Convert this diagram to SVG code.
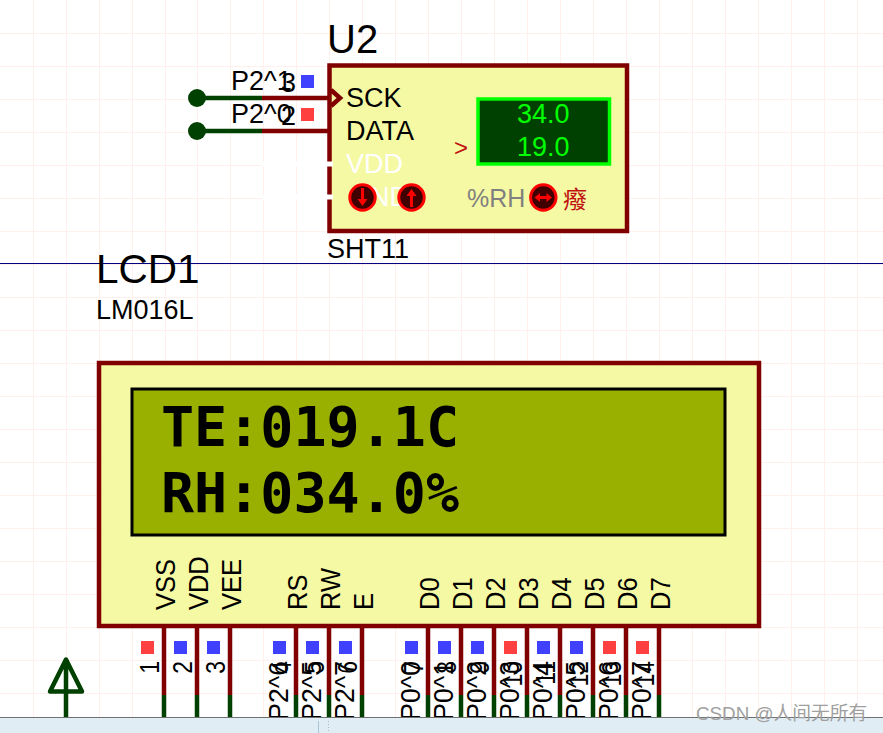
<svg xmlns="http://www.w3.org/2000/svg" width="883" height="733" viewBox="0 0 883 733">
<style>
text{font-family:"Liberation Sans",Arial,"Noto Sans CJK SC",sans-serif;fill:#000}
.grid{stroke:#fff0ee;stroke-width:1;fill:none;shape-rendering:crispEdges}
.body{fill:#f5f9a3;stroke:#800000;stroke-width:4.5}
.f27{font-size:27px}.f40{font-size:40px}.f28{font-size:28px}
.red{stroke:#800000;stroke-width:4.5;fill:none}
.green{stroke:#004000;stroke-width:4.5;fill:none}
.sr{fill:#ff4040}.sb{fill:#4040ff}
.lcd{font-family:"DejaVu Sans Mono","Liberation Mono",monospace;font-weight:700;font-size:55px}
.btn{fill:#400000;stroke:#f00;stroke-width:3}
.stem{stroke:#f00;stroke-width:3;fill:none}
.head{fill:#f00}
</style>
<rect width="883" height="733" fill="#fff"/>
<path class="grid" d="M33 0V717M66 0V717M99 0V717M132 0V717M165 0V717M197 0V717M230 0V717M263 0V717M296 0V717M329 0V717M362 0V717M395 0V717M428 0V717M461 0V717M494 0V717M527 0V717M560 0V717M593 0V717M626 0V717M659 0V717M692 0V717M725 0V717M758 0V717M791 0V717M824 0V717M857 0V717M0 33H883M0 66H883M0 99H883M0 132H883M0 165H883M0 198H883M0 231H883M0 264H883M0 297H883M0 330H883M0 363H883M0 396H883M0 429H883M0 462H883M0 495H883M0 528H883M0 561H883M0 594H883M0 627H883M0 660H883M0 693H883"/>
<path d="M0 263.500H883" stroke="#000080" stroke-width="1"/>
<g id="connectors">
<path class="green" d="M197 98H262M197 131H262"/>
<circle cx="197" cy="98" r="9" fill="#004000"/><circle cx="197" cy="131" r="9" fill="#004000"/>
<path class="red" d="M262 98H330M262 131H330"/>
<path class="red" d="M164 628V695M197 628V695M230 628V695M296 628V695M329 628V695M362 628V695M428 628V695M461 628V695M494 628V695M527 628V695M560 628V695M593 628V695M626 628V695M659 628V695"/>
<path class="green" d="M164 695V717M197 695V717M230 695V717M296 695V717M329 695V717M362 695V717M428 695V717M461 695V717M494 695V717M527 695V717M560 695V717M593 695V717M626 695V717M659 695V717"/>
</g>
<g id="U2">
<rect class="body" x="329.500" y="65.500" width="297.500" height="165.500"/>
<path d="M262 164H333M262 197H333" stroke="#fff" stroke-width="5" fill="none"/>
<path d="M331 90L340 98L331 106" stroke="#800000" stroke-width="4.500" fill="none"/>
<text class="f40" x="327" y="53">U2</text>
<text class="f27" x="327" y="258">SHT11</text>
<text class="f27" x="231" y="90">P2^1</text>
<text class="f27" x="231" y="123">P2^0</text>
<text class="f27" x="296" y="92" text-anchor="end">3</text>
<text class="f27" x="296" y="125" text-anchor="end">2</text>
<rect class="sb" x="301" y="75" width="13" height="13"/>
<rect class="sr" x="301" y="108" width="13" height="13"/>
<text class="f27" x="346" y="107">SCK</text>
<text class="f27" x="346" y="140">DATA</text>
<text class="f27" x="346" y="173" style="fill:#fff">VDD</text>
<text class="f27" x="349" y="206" style="fill:#fff">GND</text>
<text x="454" y="156" font-size="24" style="fill:#c01010">&gt;</text>
<rect x="478" y="99" width="131.500" height="65" fill="#004000" stroke="#0f0" stroke-width="3.500"/>
<text class="f27" x="569.500" y="123" text-anchor="end" style="fill:#0f0">34.0</text>
<text class="f27" x="569.500" y="156" text-anchor="end" style="fill:#0f0">19.0</text>
<circle class="btn" cx="362.500" cy="197.500" r="12.700"/>
<path class="stem" d="M362.500 188V200"/><path class="head" d="M357.500 199H367.500L362.500 206Z"/>
<circle class="btn" cx="411.500" cy="197.500" r="12.700"/>
<path class="stem" d="M411.500 207V195"/><path class="head" d="M406.500 196H416.500L411.500 189Z"/>
<text x="467" y="207" font-size="25" style="fill:#808080">%RH</text>
<circle class="btn" cx="543.300" cy="197.500" r="12.700"/>
<path class="stem" d="M538 197.500H549"/><path class="head" d="M540 193V202L534.500 197.500ZM546.500 193V202L552 197.500Z"/>
<text x="563" y="208" font-size="24" style="font-family:'Noto Sans CJK SC',sans-serif;fill:#c01010">癈</text>
</g>
<g id="LCD1">
<rect class="body" x="99" y="363" width="660" height="263"/>
<rect x="132" y="389" width="593" height="146" fill="#99b000" stroke="#000" stroke-width="3"/>
<text class="lcd" x="161" y="446">TE:019.1C</text>
<text class="lcd" x="161" y="512">RH:034.0%</text>
<text x="96" y="283" font-size="40.500">LCD1</text>
<text class="f27" x="96" y="319">LM016L</text>
<g class="f28">
<text transform="translate(175 610) rotate(-90) scale(.91 1)">VSS</text>
<text transform="translate(208 610) rotate(-90) scale(.91 1)">VDD</text>
<text transform="translate(241 610) rotate(-90) scale(.91 1)">VEE</text>
<text transform="translate(307 610) rotate(-90) scale(.91 1)">RS</text>
<text transform="translate(340 610) rotate(-90) scale(.91 1)">RW</text>
<text transform="translate(373 610) rotate(-90) scale(.91 1)">E</text>
<text transform="translate(439 610) rotate(-90) scale(.91 1)">D0</text>
<text transform="translate(472 610) rotate(-90) scale(.91 1)">D1</text>
<text transform="translate(505 610) rotate(-90) scale(.91 1)">D2</text>
<text transform="translate(538 610) rotate(-90) scale(.91 1)">D3</text>
<text transform="translate(571 610) rotate(-90) scale(.91 1)">D4</text>
<text transform="translate(604 610) rotate(-90) scale(.91 1)">D5</text>
<text transform="translate(637 610) rotate(-90) scale(.91 1)">D6</text>
<text transform="translate(670 610) rotate(-90) scale(.91 1)">D7</text>
</g>
<g class="sr"><rect x="141" y="641" width="13" height="13"/><rect x="504" y="641" width="13" height="13"/><rect x="603" y="641" width="13" height="13"/><rect x="636" y="641" width="13" height="13"/></g>
<g class="sb"><rect x="174" y="641" width="13" height="13"/><rect x="207" y="641" width="13" height="13"/><rect x="273" y="641" width="13" height="13"/><rect x="306" y="641" width="13" height="13"/><rect x="339" y="641" width="13" height="13"/><rect x="405" y="641" width="13" height="13"/><rect x="438" y="641" width="13" height="13"/><rect x="471" y="641" width="13" height="13"/><rect x="537" y="641" width="13" height="13"/><rect x="570" y="641" width="13" height="13"/></g>
<g class="f28" text-anchor="end">
<text transform="translate(159 661) rotate(-90) scale(.82 1)">1</text>
<text transform="translate(192 661) rotate(-90) scale(.82 1)">2</text>
<text transform="translate(225 661) rotate(-90) scale(.82 1)">3</text>
<text transform="translate(291 661) rotate(-90) scale(.82 1)">4</text>
<text transform="translate(324 661) rotate(-90) scale(.82 1)">5</text>
<text transform="translate(357 661) rotate(-90) scale(.82 1)">6</text>
<text transform="translate(423 661) rotate(-90) scale(.82 1)">7</text>
<text transform="translate(456 661) rotate(-90) scale(.82 1)">8</text>
<text transform="translate(489 661) rotate(-90) scale(.82 1)">9</text>
<text transform="translate(522 661) rotate(-90) scale(.82 1)">10</text>
<text transform="translate(555 661) rotate(-90) scale(.82 1)">11</text>
<text transform="translate(588 661) rotate(-90) scale(.82 1)">12</text>
<text transform="translate(621 661) rotate(-90) scale(.82 1)">13</text>
<text transform="translate(654 661) rotate(-90) scale(.82 1)">14</text>
<text transform="translate(288 661) rotate(-90) scale(.95 1)">P2^6</text>
<text transform="translate(321 661) rotate(-90) scale(.95 1)">P2^5</text>
<text transform="translate(354 661) rotate(-90) scale(.95 1)">P2^7</text>
<text transform="translate(420 661) rotate(-90) scale(.95 1)">P0^0</text>
<text transform="translate(453 661) rotate(-90) scale(.95 1)">P0^1</text>
<text transform="translate(486 661) rotate(-90) scale(.95 1)">P0^2</text>
<text transform="translate(519 661) rotate(-90) scale(.95 1)">P0^3</text>
<text transform="translate(552 661) rotate(-90) scale(.95 1)">P0^4</text>
<text transform="translate(585 661) rotate(-90) scale(.95 1)">P0^5</text>
<text transform="translate(618 661) rotate(-90) scale(.95 1)">P0^6</text>
<text transform="translate(651 661) rotate(-90) scale(.95 1)">P0^7</text>
</g>
</g>
<g id="ground">
<path class="green" stroke-linejoin="round" d="M66 659.500L50 691.500H82ZM66 659.500V717"/>
</g>
<rect y="717" width="883" height="16" fill="#e0edf5"/>
<path d="M0 717.500H883" stroke="#707070" stroke-width="1"/>
<path d="M318.500 721V733" stroke="#a8c4d8" stroke-width="1"/>
<path d="M328.500 721V733" stroke="#a8b8c4" stroke-width="1" stroke-dasharray="1 2"/>
<text x="696" y="720" font-size="18.800" style="fill:#a0a0a0;font-family:'Liberation Sans','Noto Sans CJK SC',sans-serif">CSDN @人间无所有</text>
</svg>
